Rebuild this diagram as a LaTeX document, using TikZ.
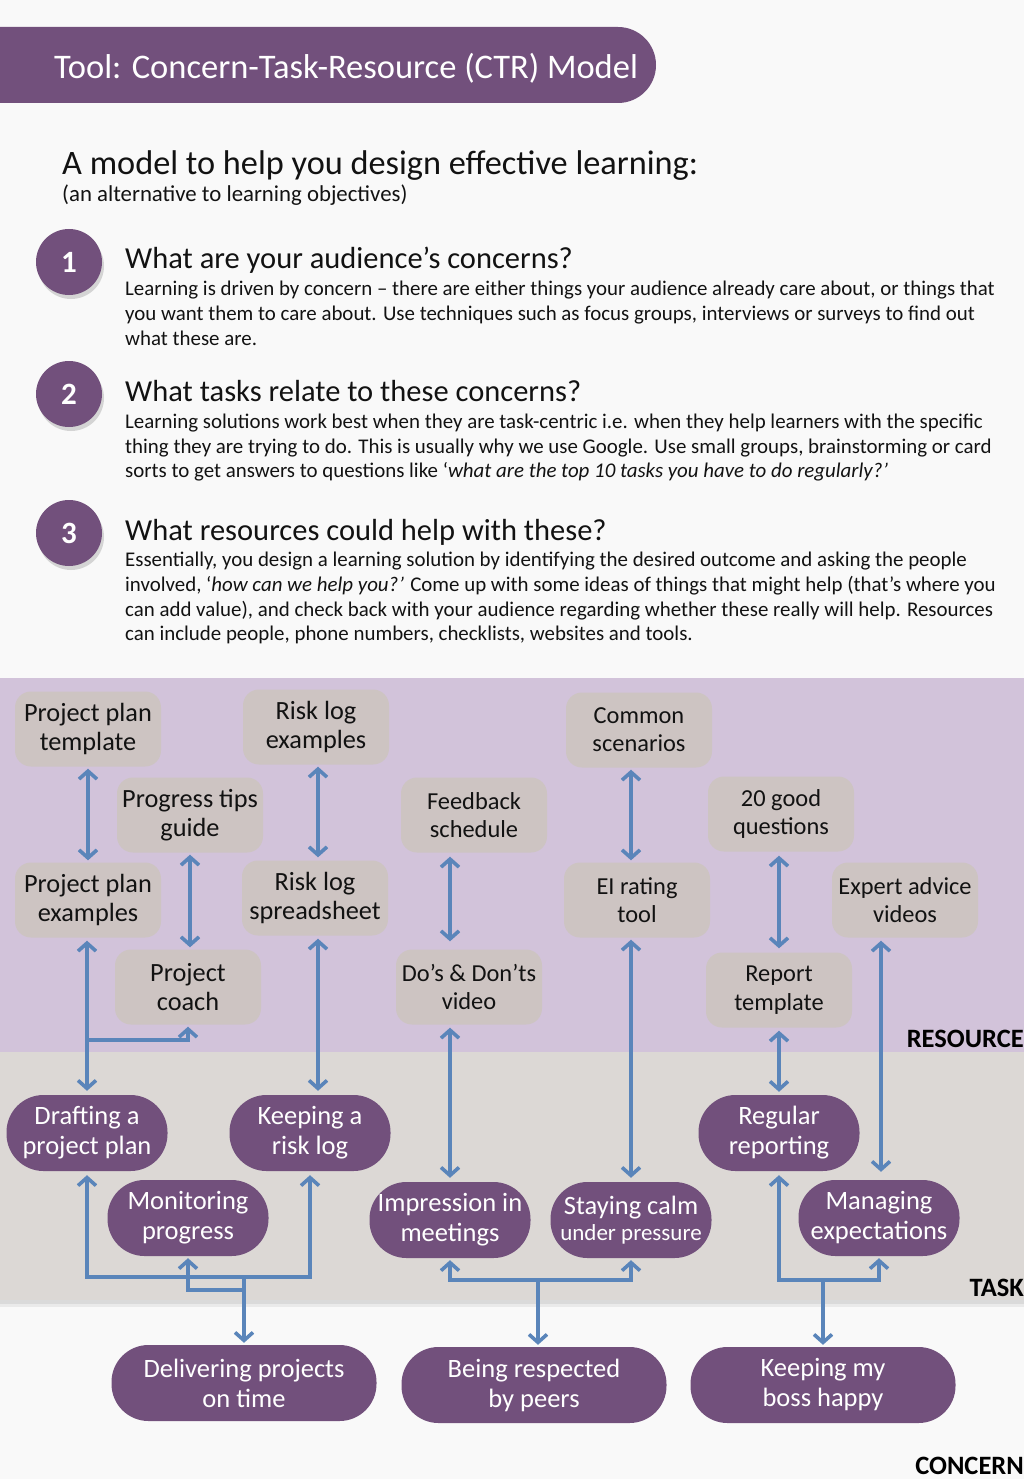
\documentclass[tikz,border=0pt]{standalone}
\usepackage{fontspec}
\setmainfont{Carlito}
\usetikzlibrary{arrows.meta,shadows,calc}
\definecolor{bgc}{HTML}{F9F9F9}
\definecolor{purp}{HTML}{72507C}
\definecolor{lav}{HTML}{D2C3DA}
\definecolor{taskbg}{HTML}{DCD8D5}
\definecolor{boxc}{HTML}{CDC4C2}
\definecolor{bluec}{HTML}{5A85BA}
\definecolor{txt}{HTML}{121212}
\tikzset{
  res/.style={fill=boxc, rounded corners=16pt, minimum width=146pt, minimum height=75pt, inner sep=0pt, align=center, font=\fontsize{26.3}{29.5}\selectfont, text=txt},
  tsk/.style={fill=purp, rounded corners=37pt, minimum width=161pt, minimum height=76pt, inner sep=0pt, align=center, font=\fontsize{26.5}{30}\selectfont, text=white},
  cnc/.style={tsk, minimum width=265pt},
  num/.style={circle, fill=purp, minimum size=66pt, inner sep=0pt, text=white, font=\fontsize{31}{31}\selectfont\bfseries, drop shadow={shadow xshift=2pt, shadow yshift=-4pt, opacity=0.3}},
  conn/.style={draw=bluec, line width=3.6pt, line join=miter},
  bline/.style={anchor=base west, inner sep=0pt, font=\fontsize{20.9}{24}\selectfont, text=txt},
  hline/.style={anchor=base west, inner sep=0pt, font=\fontsize{30.5}{34}\selectfont, text=txt},
  zone/.style={anchor=base east, inner sep=0pt, font=\fontsize{26.5}{30}\selectfont\bfseries, text=black},
  >={Straight Barb[length=8pt,width=18pt]}
}
\begin{document}
\begin{tikzpicture}[x=1pt,y=-1pt]
\useasboundingbox (0,0) rectangle (1024,1479);
\fill[bgc] (0,0) rectangle (1024,1479);
% header
\fill[purp, rounded corners=38pt] (-60,27) rectangle (656,103);
\node[anchor=base west, inner sep=0pt, text=white, font=\fontsize{34.5}{38}\selectfont] (title) at (54,79) {Tool: Concern-Task-Resource (CTR) Model};
\node[hline, font=\fontsize{34.3}{38}\selectfont] (sub) at (62,175) {A model to help you design effective learning:};
\node[bline, font=\fontsize{22.8}{26}\selectfont] (sub2) at (62,202) {(an alternative to learning objectives)};
% numbered steps
\node[num] (n1) at (69,262) {1};
\node[num] (n2) at (69,394) {2};
\node[num] (n3) at (69,533) {3};
\node[hline] (h1) at (125,269) {What are your audience’s concerns?};
\node[bline] (l11) at (125,295) {Learning is driven by concern – there are either things your audience already care about, or things that};
\node[bline] (l12) at (125,320) {you want them to care about. Use techniques such as focus groups, interviews or surveys to find out};
\node[bline] (l13) at (125,345) {what these are.};
\node[hline] (h2) at (125,401) {What tasks relate to these concerns?};
\node[bline] (l21) at (125,428) {Learning solutions work best when they are task-centric i.e. when they help learners with the specific};
\node[bline] (l22) at (125,453) {thing they are trying to do. This is usually why we use Google. Use small groups, brainstorming or card};
\node[bline] (l23) at (125,477) {sorts to get answers to questions like ‘\textit{what are the top 10 tasks you have to do regularly?’}};
\node[hline] (h3) at (125,540) {What resources could help with these?};
\node[bline] (l31) at (125,566) {Essentially, you design a learning solution by identifying the desired outcome and asking the people};
\node[bline] (l32) at (125,591) {involved, ‘\textit{how can we help you?’} Come up with some ideas of things that might help (that’s where you};
\node[bline] (l33) at (125,616) {can add value), and check back with your audience regarding whether these really will help. Resources};
\node[bline] (l34) at (125,640) {can include people, phone numbers, checklists, websites and tools.};
% bands
\fill[lav] (0,678) rectangle (1024,1052);
\fill[taskbg] (0,1052) rectangle (1024,1300);
\fill[black, opacity=0.12] (0,1300) rectangle (1024,1304);
\fill[black, opacity=0.06] (0,1304) rectangle (1024,1307);
\node[zone] (zr) at (1024,1047) {RESOURCE};
\node[zone] (zt) at (1024,1296) {TASK};
\node[zone] (zc) at (1024,1474) {CONCERN};
% resources
\node[res] (ppt) at (88,729) {Project plan\\template};
\node[res] (rle) at (316,727) {Risk log\\examples};
\node[res] (ptg) at (190,815) {Progress tips\\guide};
\node[res] (ppe) at (88,900) {Project plan\\examples};
\node[res] (rls) at (315,898) {Risk log\\spreadsheet};
\node[res] (pc) at (188,987) {Project\\coach};
\node[res, font=\fontsize{24.4}{28.5}\selectfont] (fs) at (474,815) {Feedback\\schedule};
\node[res, font=\fontsize{24.4}{28.5}\selectfont] (dd) at (469,987) {Do’s \& Don’ts\\video};
\node[res, font=\fontsize{24.4}{28}\selectfont] (cs) at (639,730) {Common\\scenarios};
\node[res, font=\fontsize{24.4}{28.5}\selectfont] (ei) at (637,900) {EI rating\\tool};
\node[res, font=\fontsize{24.4}{28.5}\selectfont] (gq) at (781,814) {20 good\\questions};
\node[res, font=\fontsize{24.4}{28.5}\selectfont] (rt) at (779,990) {Report\\template};
\node[res, font=\fontsize{24.4}{28.5}\selectfont] (ea) at (905,900) {Expert advice\\videos};
% tasks
\node[tsk] (dr) at (87,1133) {Drafting a\\project plan};
\node[tsk] (krl) at (310,1133) {Keeping a\\risk log};
\node[tsk] (mon) at (188,1218) {Monitoring\\progress};
\node[tsk] (imp) at (450,1220) {Impression in\\meetings};
\node[tsk] (calm) at (631,1220) {Staying calm\\[-4pt]{\fontsize{23}{26}\selectfont under pressure}};
\node[tsk] (reg) at (779,1133) {Regular\\reporting};
\node[tsk] (mng) at (879,1218) {Managing\\expectations};
% concerns
\node[cnc] (del) at (244,1383) {Delivering projects\\on time};
\node[cnc] (resp) at (534,1385) {Being respected\\by peers};
\node[cnc] (boss) at (823,1385) {Keeping my\\boss happy};
% resource-resource connectors
\draw[conn, <->, shorten <=2pt, shorten >=2pt] (ppt.south) -- (ppe.north);
\draw[conn, <->, shorten <=2pt, shorten >=2pt] (ptg.south) -- (pc.north -| ptg.south);
\draw[conn, <->, shorten <=2pt, shorten >=3pt] (rle.south -| krl.north) ++(8,0) coordinate (rlx) -- (rls.north -| rlx);
\draw[conn, <->, shorten <=4pt, shorten >=8pt] (fs.south -| imp.north) -- (dd.north -| imp.north);
\draw[conn, <->, shorten <=2pt, shorten >=2pt] (cs.south -| calm.north) -- (ei.north -| calm.north);
\draw[conn, <->, shorten <=4pt, shorten >=4pt] (gq.south -| rt.north) -- (rt.north);
% resource-task connectors
\draw[conn, <->, shorten <=3pt, shorten >=4pt] (ppe.south -| dr.north) -- (dr.north);
\coordinate (j1) at (87,1040);
\draw[conn, ->, shorten >=2pt] (j1) -| (pc.south);
\draw[conn, <->, shorten <=3pt, shorten >=4pt] (rls.south -| rlx) -- (krl.north -| rlx);
\draw[conn, <->, shorten <=3pt, shorten >=4pt] (dd.south -| imp.north) -- (imp.north);
\draw[conn, <->, shorten <=2pt, shorten >=4pt] (ei.south -| calm.north) -- (calm.north);
\draw[conn, <->, shorten <=3pt, shorten >=3pt] (rt.south) -- (reg.north -| rt.south);
\draw[conn, <->, shorten <=3pt, shorten >=8pt] (ea.south -| mng.north) ++(2,0) coordinate (eax) -- (mng.north -| eax);
% task-concern connectors
\coordinate (jl) at (244,1277);
\coordinate (jl2) at (244,1290);
\draw[conn, ->, shorten >=2pt] (jl) -- (del.north);
\draw[conn, ->, shorten >=4pt] (jl) -| (dr.south);
\draw[conn, ->, shorten >=4pt] (jl) -| (krl.south);
\draw[conn, ->, shorten >=2pt] (jl2) -| (mon.south);
\coordinate (jm) at (538,1280);
\draw[conn, ->, shorten >=2pt] (jm) -- (resp.north -| jm);
\draw[conn, ->, shorten >=2pt] (jm) -| (imp.south);
\draw[conn, ->, shorten >=2pt] (jm) -| (calm.south);
\coordinate (jr) at (823,1280);
\draw[conn, ->, shorten >=2pt] (jr) -- (boss.north);
\draw[conn, ->, shorten >=4pt] (jr) -| (reg.south);
\draw[conn, ->, shorten >=2pt] (jr) -| (mng.south);
\end{tikzpicture}
\end{document}
